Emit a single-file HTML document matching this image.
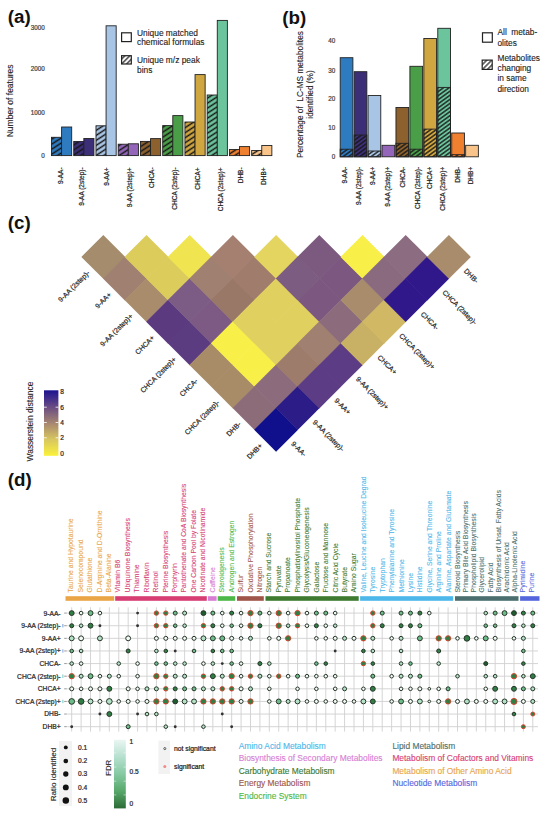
<!DOCTYPE html>
<html><head><meta charset="utf-8"><style>
html,body{margin:0;padding:0;background:#fff;width:550px;height:816px;overflow:hidden;}
svg{display:block;font-family:"Liberation Sans",sans-serif;}
</style></head><body>
<svg xml:space="preserve" width="550" height="816" viewBox="0 0 550 816" font-family="Liberation Sans, sans-serif"><text x="7.80" y="22.90" font-size="18.8" fill="#111" font-weight="bold">(a)</text>
<text x="282.30" y="23.50" font-size="18.8" fill="#111" font-weight="bold">(b)</text>
<text x="7.80" y="228.90" font-size="18.8" fill="#111" font-weight="bold">(c)</text>
<text x="7.80" y="486.00" font-size="18.8" fill="#111" font-weight="bold">(d)</text>
<defs><pattern id="ha" patternUnits="userSpaceOnUse" width="4.2" height="4.2" patternTransform="rotate(-33)"><line x1="0" y1="2.1" x2="4.2" y2="2.1" stroke="#151515" stroke-width="1.45"/></pattern><pattern id="hb" patternUnits="userSpaceOnUse" width="3.3" height="3.3" patternTransform="rotate(-36)"><line x1="0" y1="1.65" x2="3.3" y2="1.65" stroke="#151515" stroke-width="1.3"/></pattern><pattern id="hl" patternUnits="userSpaceOnUse" width="3.5" height="3.5" patternTransform="rotate(-45)"><line x1="0" y1="1.75" x2="3.5" y2="1.75" stroke="#111" stroke-width="1.15"/></pattern></defs>
<rect x="51.50" y="137.30" width="10.1" height="18.30" fill="#2F7BBF"/>
<rect x="51.50" y="137.30" width="10.1" height="18.30" fill="url(#ha)" stroke="#222" stroke-width="0.9"/>
<rect x="61.60" y="127.00" width="10.1" height="28.60" fill="#2F7BBF" stroke="#222" stroke-width="0.9"/>
<text x="63.45" y="167.40" font-size="6.5" fill="#262626" stroke="#262626" stroke-width="0.22" text-anchor="end" transform="rotate(-90 63.45 167.40)">9-AA-</text>
<rect x="73.74" y="141.50" width="10.1" height="14.10" fill="#3D2E78"/>
<rect x="73.74" y="141.50" width="10.1" height="14.10" fill="url(#ha)" stroke="#222" stroke-width="0.9"/>
<rect x="83.84" y="138.50" width="10.1" height="17.10" fill="#3D2E78" stroke="#222" stroke-width="0.9"/>
<text x="83.95" y="167.40" font-size="6.5" fill="#262626" stroke="#262626" stroke-width="0.22" text-anchor="end" transform="rotate(-90 83.95 167.40)">9-AA (2step)-</text>
<rect x="95.98" y="125.80" width="10.1" height="29.80" fill="#A9C5E6"/>
<rect x="95.98" y="125.80" width="10.1" height="29.80" fill="url(#ha)" stroke="#222" stroke-width="0.9"/>
<rect x="106.08" y="25.80" width="10.1" height="129.80" fill="#A9C5E6" stroke="#222" stroke-width="0.9"/>
<text x="109.05" y="167.40" font-size="6.5" fill="#262626" stroke="#262626" stroke-width="0.22" text-anchor="end" transform="rotate(-90 109.05 167.40)">9-AA+</text>
<rect x="118.22" y="144.20" width="10.1" height="11.40" fill="#9466B9"/>
<rect x="118.22" y="144.20" width="10.1" height="11.40" fill="url(#ha)" stroke="#222" stroke-width="0.9"/>
<rect x="128.32" y="143.80" width="10.1" height="11.80" fill="#9466B9" stroke="#222" stroke-width="0.9"/>
<text x="131.85" y="167.40" font-size="6.5" fill="#262626" stroke="#262626" stroke-width="0.22" text-anchor="end" transform="rotate(-90 131.85 167.40)">9-AA (2step)+</text>
<rect x="140.46" y="141.40" width="10.1" height="14.20" fill="#8C612E"/>
<rect x="140.46" y="141.40" width="10.1" height="14.20" fill="url(#ha)" stroke="#222" stroke-width="0.9"/>
<rect x="150.56" y="138.60" width="10.1" height="17.00" fill="#8C612E" stroke="#222" stroke-width="0.9"/>
<text x="153.75" y="167.40" font-size="6.5" fill="#262626" stroke="#262626" stroke-width="0.22" text-anchor="end" transform="rotate(-90 153.75 167.40)">CHCA-</text>
<rect x="162.70" y="125.60" width="10.1" height="30.00" fill="#4B9E48"/>
<rect x="162.70" y="125.60" width="10.1" height="30.00" fill="url(#ha)" stroke="#222" stroke-width="0.9"/>
<rect x="172.80" y="115.60" width="10.1" height="40.00" fill="#4B9E48" stroke="#222" stroke-width="0.9"/>
<text x="176.75" y="167.40" font-size="6.5" fill="#262626" stroke="#262626" stroke-width="0.22" text-anchor="end" transform="rotate(-90 176.75 167.40)">CHCA (2step)-</text>
<rect x="184.94" y="122.00" width="10.1" height="33.60" fill="#CFA640"/>
<rect x="184.94" y="122.00" width="10.1" height="33.60" fill="url(#ha)" stroke="#222" stroke-width="0.9"/>
<rect x="195.04" y="74.60" width="10.1" height="81.00" fill="#CFA640" stroke="#222" stroke-width="0.9"/>
<text x="199.95" y="167.40" font-size="6.5" fill="#262626" stroke="#262626" stroke-width="0.22" text-anchor="end" transform="rotate(-90 199.95 167.40)">CHCA+</text>
<rect x="207.18" y="95.00" width="10.1" height="60.60" fill="#6BC49C"/>
<rect x="207.18" y="95.00" width="10.1" height="60.60" fill="url(#ha)" stroke="#222" stroke-width="0.9"/>
<rect x="217.28" y="20.40" width="10.1" height="135.20" fill="#6BC49C" stroke="#222" stroke-width="0.9"/>
<text x="223.15" y="167.40" font-size="6.5" fill="#262626" stroke="#262626" stroke-width="0.22" text-anchor="end" transform="rotate(-90 223.15 167.40)">CHCA (2step)+</text>
<rect x="229.42" y="149.50" width="10.1" height="6.10" fill="#EE8030"/>
<rect x="229.42" y="149.50" width="10.1" height="6.10" fill="url(#ha)" stroke="#222" stroke-width="0.9"/>
<rect x="239.52" y="146.60" width="10.1" height="9.00" fill="#EE8030" stroke="#222" stroke-width="0.9"/>
<text x="242.95" y="167.40" font-size="6.5" fill="#262626" stroke="#262626" stroke-width="0.22" text-anchor="end" transform="rotate(-90 242.95 167.40)">DHB-</text>
<rect x="251.66" y="150.50" width="10.1" height="5.10" fill="#F9C48A"/>
<rect x="251.66" y="150.50" width="10.1" height="5.10" fill="url(#ha)" stroke="#222" stroke-width="0.9"/>
<rect x="261.76" y="145.50" width="10.1" height="10.10" fill="#F9C48A" stroke="#222" stroke-width="0.9"/>
<text x="266.15" y="167.40" font-size="6.5" fill="#262626" stroke="#262626" stroke-width="0.22" text-anchor="end" transform="rotate(-90 266.15 167.40)">DHB+</text>
<text x="44.80" y="158.20" font-size="6.3" fill="#444" stroke="#444" stroke-width="0.22" text-anchor="end">0</text>
<text x="44.80" y="114.60" font-size="6.3" fill="#444" stroke="#444" stroke-width="0.22" text-anchor="end">1000</text>
<text x="44.80" y="71.20" font-size="6.3" fill="#444" stroke="#444" stroke-width="0.22" text-anchor="end">2000</text>
<text x="44.80" y="29.90" font-size="6.3" fill="#444" stroke="#444" stroke-width="0.22" text-anchor="end">3000</text>
<text x="13.50" y="100.90" font-size="8.5" fill="#222" stroke="#222" stroke-width="0.12" text-anchor="middle" transform="rotate(-90 13.50 100.90)">Number of features</text>
<rect x="121.6" y="32.8" width="9.7" height="8.8" fill="#fff" stroke="#222" stroke-width="1.2"/>
<rect x="121.6" y="55.7" width="9.7" height="8.3" fill="url(#hl)" stroke="#222" stroke-width="1.2"/>
<text x="137.00" y="35.50" font-size="8.4" fill="#222" stroke="#222" stroke-width="0.12">Unique matched</text>
<text x="137.00" y="45.40" font-size="8.4" fill="#222" stroke="#222" stroke-width="0.12">chemical formulas</text>
<text x="137.00" y="63.30" font-size="8.4" fill="#222" stroke="#222" stroke-width="0.12">Unique m/z peak</text>
<text x="137.00" y="73.20" font-size="8.4" fill="#222" stroke="#222" stroke-width="0.12">bins</text>
<rect x="340.20" y="57.70" width="12.7" height="99.10" fill="#2F7BBF" stroke="#222" stroke-width="0.9"/>
<rect x="340.20" y="149.20" width="12.7" height="7.60" fill="url(#hb)" stroke="#222" stroke-width="0.9"/>
<text x="346.85" y="166.80" font-size="6.5" fill="#262626" stroke="#262626" stroke-width="0.22" text-anchor="end" transform="rotate(-90 346.85 166.80)">9-AA-</text>
<rect x="354.14" y="71.70" width="12.7" height="85.10" fill="#3D2E78" stroke="#222" stroke-width="0.9"/>
<rect x="354.14" y="135.00" width="12.7" height="21.80" fill="url(#hb)" stroke="#222" stroke-width="0.9"/>
<text x="361.05" y="166.80" font-size="6.5" fill="#262626" stroke="#262626" stroke-width="0.22" text-anchor="end" transform="rotate(-90 361.05 166.80)">9-AA (2step)-</text>
<rect x="368.08" y="95.50" width="12.7" height="61.30" fill="#A9C5E6" stroke="#222" stroke-width="0.9"/>
<rect x="368.08" y="151.00" width="12.7" height="5.80" fill="url(#hb)" stroke="#222" stroke-width="0.9"/>
<text x="375.45" y="166.80" font-size="6.5" fill="#262626" stroke="#262626" stroke-width="0.22" text-anchor="end" transform="rotate(-90 375.45 166.80)">9-AA+</text>
<rect x="382.02" y="145.30" width="12.7" height="11.50" fill="#9466B9" stroke="#222" stroke-width="0.9"/>
<text x="389.75" y="166.80" font-size="6.5" fill="#262626" stroke="#262626" stroke-width="0.22" text-anchor="end" transform="rotate(-90 389.75 166.80)">9-AA (2step)+</text>
<rect x="395.96" y="107.50" width="12.7" height="49.30" fill="#8C612E" stroke="#222" stroke-width="0.9"/>
<rect x="395.96" y="143.30" width="12.7" height="13.50" fill="url(#hb)" stroke="#222" stroke-width="0.9"/>
<text x="404.55" y="166.80" font-size="6.5" fill="#262626" stroke="#262626" stroke-width="0.22" text-anchor="end" transform="rotate(-90 404.55 166.80)">CHCA-</text>
<rect x="409.90" y="66.30" width="12.7" height="90.50" fill="#4B9E48" stroke="#222" stroke-width="0.9"/>
<rect x="409.90" y="149.20" width="12.7" height="7.60" fill="url(#hb)" stroke="#222" stroke-width="0.9"/>
<text x="419.75" y="166.80" font-size="6.5" fill="#262626" stroke="#262626" stroke-width="0.22" text-anchor="end" transform="rotate(-90 419.75 166.80)">CHCA (2step)-</text>
<rect x="423.84" y="38.50" width="12.7" height="118.30" fill="#CFA640" stroke="#222" stroke-width="0.9"/>
<rect x="423.84" y="129.10" width="12.7" height="27.70" fill="url(#hb)" stroke="#222" stroke-width="0.9"/>
<text x="432.05" y="166.80" font-size="6.5" fill="#262626" stroke="#262626" stroke-width="0.22" text-anchor="end" transform="rotate(-90 432.05 166.80)">CHCA+</text>
<rect x="437.78" y="28.30" width="12.7" height="128.50" fill="#6BC49C" stroke="#222" stroke-width="0.9"/>
<rect x="437.78" y="87.40" width="12.7" height="69.40" fill="url(#hb)" stroke="#222" stroke-width="0.9"/>
<text x="445.45" y="166.80" font-size="6.5" fill="#262626" stroke="#262626" stroke-width="0.22" text-anchor="end" transform="rotate(-90 445.45 166.80)">CHCA (2step)+</text>
<rect x="451.72" y="133.00" width="12.7" height="23.80" fill="#EE8030" stroke="#222" stroke-width="0.9"/>
<rect x="451.72" y="154.70" width="12.7" height="2.10" fill="url(#hb)" stroke="#222" stroke-width="0.9"/>
<text x="459.75" y="166.80" font-size="6.5" fill="#262626" stroke="#262626" stroke-width="0.22" text-anchor="end" transform="rotate(-90 459.75 166.80)">DHB-</text>
<rect x="465.66" y="145.30" width="12.7" height="11.50" fill="#F9C48A" stroke="#222" stroke-width="0.9"/>
<text x="472.85" y="166.80" font-size="6.5" fill="#262626" stroke="#262626" stroke-width="0.22" text-anchor="end" transform="rotate(-90 472.85 166.80)">DHB+</text>
<text x="335.30" y="158.70" font-size="6.3" fill="#444" stroke="#444" stroke-width="0.22" text-anchor="end">0</text>
<text x="335.30" y="129.90" font-size="6.3" fill="#444" stroke="#444" stroke-width="0.22" text-anchor="end">10</text>
<text x="335.30" y="101.30" font-size="6.3" fill="#444" stroke="#444" stroke-width="0.22" text-anchor="end">20</text>
<text x="335.30" y="72.50" font-size="6.3" fill="#444" stroke="#444" stroke-width="0.22" text-anchor="end">30</text>
<text x="335.30" y="43.00" font-size="6.3" fill="#444" stroke="#444" stroke-width="0.22" text-anchor="end">40</text>
<text x="303.10" y="94.50" font-size="8.3" fill="#222" stroke="#222" stroke-width="0.12" text-anchor="middle" transform="rotate(-90 303.10 94.50)">Percentage of  LC-MS metabolites</text>
<text x="313.20" y="94.50" font-size="8.3" fill="#222" stroke="#222" stroke-width="0.12" text-anchor="middle" transform="rotate(-90 313.20 94.50)">identified (%)</text>
<rect x="482.5" y="32.8" width="9.8" height="9.4" fill="#fff" stroke="#222" stroke-width="1.2"/>
<rect x="482.2" y="60.1" width="10" height="9.3" fill="url(#hl)" stroke="#222" stroke-width="1.2"/>
<text x="497.50" y="35.20" font-size="8.3" fill="#222" stroke="#222" stroke-width="0.12">All  metab-</text>
<text x="497.50" y="45.60" font-size="8.3" fill="#222" stroke="#222" stroke-width="0.12">olites</text>
<text x="497.50" y="61.20" font-size="8.3" fill="#222" stroke="#222" stroke-width="0.12">Metabolites</text>
<text x="497.50" y="71.40" font-size="8.3" fill="#222" stroke="#222" stroke-width="0.12">changing</text>
<text x="497.50" y="81.40" font-size="8.3" fill="#222" stroke="#222" stroke-width="0.12">in same</text>
<text x="497.50" y="91.50" font-size="8.3" fill="#222" stroke="#222" stroke-width="0.12">direction</text>
<polygon points="81.35,256.90 103.30,234.95 125.25,256.90 103.30,278.85" fill="#A48C6C"/>
<polygon points="102.95,278.50 124.90,256.55 146.85,278.50 124.90,300.45" fill="#A08070"/>
<polygon points="124.55,256.90 146.50,234.95 168.45,256.90 146.50,278.85" fill="#DCCC5C"/>
<polygon points="124.55,300.10 146.50,278.15 168.45,300.10 146.50,322.05" fill="#A88C6C"/>
<polygon points="146.15,278.50 168.10,256.55 190.05,278.50 168.10,300.45" fill="#DCCC5C"/>
<polygon points="167.75,256.90 189.70,234.95 211.65,256.90 189.70,278.85" fill="#F0E450"/>
<polygon points="146.15,321.70 168.10,299.75 190.05,321.70 168.10,343.65" fill="#5C3A80"/>
<polygon points="167.75,300.10 189.70,278.15 211.65,300.10 189.70,322.05" fill="#7C5C84"/>
<polygon points="189.35,278.50 211.30,256.55 233.25,278.50 211.30,300.45" fill="#A08070"/>
<polygon points="210.95,256.90 232.90,234.95 254.85,256.90 232.90,278.85" fill="#A58070"/>
<polygon points="167.75,343.30 189.70,321.35 211.65,343.30 189.70,365.25" fill="#5C3C80"/>
<polygon points="189.35,321.70 211.30,299.75 233.25,321.70 211.30,343.65" fill="#7C5A84"/>
<polygon points="210.95,300.10 232.90,278.15 254.85,300.10 232.90,322.05" fill="#9A7868"/>
<polygon points="232.55,278.50 254.50,256.55 276.45,278.50 254.50,300.45" fill="#A07C6C"/>
<polygon points="254.15,256.90 276.10,234.95 298.05,256.90 276.10,278.85" fill="#E4D460"/>
<polygon points="189.35,364.90 211.30,342.95 233.25,364.90 211.30,386.85" fill="#A88C68"/>
<polygon points="210.95,343.30 232.90,321.35 254.85,343.30 232.90,365.25" fill="#F8F048"/>
<polygon points="232.55,321.70 254.50,299.75 276.45,321.70 254.50,343.65" fill="#E0D060"/>
<polygon points="254.15,300.10 276.10,278.15 298.05,300.10 276.10,322.05" fill="#E0D060"/>
<polygon points="275.75,278.50 297.70,256.55 319.65,278.50 297.70,300.45" fill="#7C5C80"/>
<polygon points="297.35,256.90 319.30,234.95 341.25,256.90 319.30,278.85" fill="#7C5A80"/>
<polygon points="210.95,386.50 232.90,364.55 254.85,386.50 232.90,408.45" fill="#A88C68"/>
<polygon points="232.55,364.90 254.50,342.95 276.45,364.90 254.50,386.85" fill="#F8F048"/>
<polygon points="254.15,343.30 276.10,321.35 298.05,343.30 276.10,365.25" fill="#E0D060"/>
<polygon points="275.75,321.70 297.70,299.75 319.65,321.70 297.70,343.65" fill="#E0D060"/>
<polygon points="297.35,300.10 319.30,278.15 341.25,300.10 319.30,322.05" fill="#7C5880"/>
<polygon points="318.95,278.50 340.90,256.55 362.85,278.50 340.90,300.45" fill="#7C5880"/>
<polygon points="340.55,256.90 362.50,234.95 384.45,256.90 362.50,278.85" fill="#F8F048"/>
<polygon points="232.55,408.10 254.50,386.15 276.45,408.10 254.50,430.05" fill="#8C6C78"/>
<polygon points="254.15,386.50 276.10,364.55 298.05,386.50 276.10,408.45" fill="#8C6C7C"/>
<polygon points="275.75,364.90 297.70,342.95 319.65,364.90 297.70,386.85" fill="#9E7C6C"/>
<polygon points="297.35,343.30 319.30,321.35 341.25,343.30 319.30,365.25" fill="#A08070"/>
<polygon points="318.95,321.70 340.90,299.75 362.85,321.70 340.90,343.65" fill="#8C6C7C"/>
<polygon points="340.55,300.10 362.50,278.15 384.45,300.10 362.50,322.05" fill="#A88C6C"/>
<polygon points="362.15,278.50 384.10,256.55 406.05,278.50 384.10,300.45" fill="#8A6A7E"/>
<polygon points="383.75,256.90 405.70,234.95 427.65,256.90 405.70,278.85" fill="#8C6C80"/>
<polygon points="254.15,429.70 276.10,407.75 298.05,429.70 276.10,451.65" fill="#10108C"/>
<polygon points="275.75,408.10 297.70,386.15 319.65,408.10 297.70,430.05" fill="#2C1C88"/>
<polygon points="297.35,386.50 319.30,364.55 341.25,386.50 319.30,408.45" fill="#5C3C84"/>
<polygon points="318.95,364.90 340.90,342.95 362.85,364.90 340.90,386.85" fill="#5C3C84"/>
<polygon points="340.55,343.30 362.50,321.35 384.45,343.30 362.50,365.25" fill="#C8B064"/>
<polygon points="362.15,321.70 384.10,299.75 406.05,321.70 384.10,343.65" fill="#D0B864"/>
<polygon points="383.75,300.10 405.70,278.15 427.65,300.10 405.70,322.05" fill="#30188A"/>
<polygon points="405.35,278.50 427.30,256.55 449.25,278.50 427.30,300.45" fill="#30188A"/>
<polygon points="426.95,256.90 448.90,234.95 470.85,256.90 448.90,278.85" fill="#A88C6C"/>
<text x="90.20" y="273.40" font-size="7.0" fill="#262626" stroke="#262626" stroke-width="0.22" text-anchor="end" transform="rotate(-45 90.20 273.40)">9-AA (2step)-</text>
<text x="111.80" y="295.00" font-size="7.0" fill="#262626" stroke="#262626" stroke-width="0.22" text-anchor="end" transform="rotate(-45 111.80 295.00)">9-AA+</text>
<text x="133.40" y="316.60" font-size="7.0" fill="#262626" stroke="#262626" stroke-width="0.22" text-anchor="end" transform="rotate(-45 133.40 316.60)">9-AA (2step)+</text>
<text x="155.00" y="338.20" font-size="7.0" fill="#262626" stroke="#262626" stroke-width="0.22" text-anchor="end" transform="rotate(-45 155.00 338.20)">CHCA+</text>
<text x="176.60" y="359.80" font-size="7.0" fill="#262626" stroke="#262626" stroke-width="0.22" text-anchor="end" transform="rotate(-45 176.60 359.80)">CHCA (2step)+</text>
<text x="198.20" y="381.40" font-size="7.0" fill="#262626" stroke="#262626" stroke-width="0.22" text-anchor="end" transform="rotate(-45 198.20 381.40)">CHCA-</text>
<text x="219.80" y="403.00" font-size="7.0" fill="#262626" stroke="#262626" stroke-width="0.22" text-anchor="end" transform="rotate(-45 219.80 403.00)">CHCA (2step)-</text>
<text x="241.40" y="424.60" font-size="7.0" fill="#262626" stroke="#262626" stroke-width="0.22" text-anchor="end" transform="rotate(-45 241.40 424.60)">DHB-</text>
<text x="263.00" y="446.20" font-size="7.0" fill="#262626" stroke="#262626" stroke-width="0.22" text-anchor="end" transform="rotate(-45 263.00 446.20)">DHB+</text>
<text x="290.70" y="444.30" font-size="7.0" fill="#262626" stroke="#262626" stroke-width="0.22" transform="rotate(45 290.70 444.30)">9-AA-</text>
<text x="312.30" y="422.70" font-size="7.0" fill="#262626" stroke="#262626" stroke-width="0.22" transform="rotate(45 312.30 422.70)">9-AA (2step)-</text>
<text x="333.90" y="401.10" font-size="7.0" fill="#262626" stroke="#262626" stroke-width="0.22" transform="rotate(45 333.90 401.10)">9-AA+</text>
<text x="355.50" y="379.50" font-size="7.0" fill="#262626" stroke="#262626" stroke-width="0.22" transform="rotate(45 355.50 379.50)">9-AA (2step)+</text>
<text x="377.10" y="357.90" font-size="7.0" fill="#262626" stroke="#262626" stroke-width="0.22" transform="rotate(45 377.10 357.90)">CHCA+</text>
<text x="398.70" y="336.30" font-size="7.0" fill="#262626" stroke="#262626" stroke-width="0.22" transform="rotate(45 398.70 336.30)">CHCA (2step)+</text>
<text x="420.30" y="314.70" font-size="7.0" fill="#262626" stroke="#262626" stroke-width="0.22" transform="rotate(45 420.30 314.70)">CHCA-</text>
<text x="441.90" y="293.10" font-size="7.0" fill="#262626" stroke="#262626" stroke-width="0.22" transform="rotate(45 441.90 293.10)">CHCA (2step)-</text>
<text x="463.50" y="271.50" font-size="7.0" fill="#262626" stroke="#262626" stroke-width="0.22" transform="rotate(45 463.50 271.50)">DHB-</text>
<defs><linearGradient id="wd" x1="0" y1="1" x2="0" y2="0"><stop offset="0" stop-color="#FAF23A"/><stop offset="0.25" stop-color="#D8C660"/><stop offset="0.5" stop-color="#A68670"/><stop offset="0.75" stop-color="#684A84"/><stop offset="1" stop-color="#1C1290"/></linearGradient></defs>
<rect x="44" y="390.3" width="14.4" height="65.5" fill="url(#wd)"/>
<line x1="44" y1="437.80" x2="46.8" y2="437.80" stroke="#fff" stroke-width="0.8"/>
<line x1="55.6" y1="437.80" x2="58.4" y2="437.80" stroke="#fff" stroke-width="0.8"/>
<line x1="44" y1="422.50" x2="46.8" y2="422.50" stroke="#fff" stroke-width="0.8"/>
<line x1="55.6" y1="422.50" x2="58.4" y2="422.50" stroke="#fff" stroke-width="0.8"/>
<line x1="44" y1="407.20" x2="46.8" y2="407.20" stroke="#fff" stroke-width="0.8"/>
<line x1="55.6" y1="407.20" x2="58.4" y2="407.20" stroke="#fff" stroke-width="0.8"/>
<text x="60.30" y="455.50" font-size="6.6" fill="#262626" stroke="#262626" stroke-width="0.22">0</text>
<text x="60.30" y="440.20" font-size="6.6" fill="#262626" stroke="#262626" stroke-width="0.22">2</text>
<text x="60.30" y="424.90" font-size="6.6" fill="#262626" stroke="#262626" stroke-width="0.22">4</text>
<text x="60.30" y="409.60" font-size="6.6" fill="#262626" stroke="#262626" stroke-width="0.22">6</text>
<text x="60.30" y="394.30" font-size="6.6" fill="#262626" stroke="#262626" stroke-width="0.22">8</text>
<text x="33.30" y="421.50" font-size="8.45" fill="#222" stroke="#222" stroke-width="0.12" text-anchor="middle" transform="rotate(-90 33.30 421.50)">Wasserstein distance</text>
<text x="73.20" y="592.40" font-size="6.8" fill="#E9A546" stroke="#E9A546" stroke-width="0.08" transform="rotate(-90 73.20 592.40)">Taurine and Hypotaurine</text>
<text x="82.64" y="592.40" font-size="6.8" fill="#E9A546" stroke="#E9A546" stroke-width="0.08" transform="rotate(-90 82.64 592.40)">Selenocompound</text>
<text x="92.08" y="592.40" font-size="6.8" fill="#E9A546" stroke="#E9A546" stroke-width="0.08" transform="rotate(-90 92.08 592.40)">Glutathione</text>
<text x="101.52" y="592.40" font-size="6.8" fill="#E9A546" stroke="#E9A546" stroke-width="0.08" transform="rotate(-90 101.52 592.40)">D-Arginine and D-Ornithine</text>
<text x="110.96" y="592.40" font-size="6.8" fill="#E9A546" stroke="#E9A546" stroke-width="0.08" transform="rotate(-90 110.96 592.40)">Beta-Alanine</text>
<text x="120.40" y="592.40" font-size="6.8" fill="#D63E74" stroke="#D63E74" stroke-width="0.08" transform="rotate(-90 120.40 592.40)">Vitamin B6</text>
<text x="129.84" y="592.40" font-size="6.8" fill="#D63E74" stroke="#D63E74" stroke-width="0.08" transform="rotate(-90 129.84 592.40)">Ubiquinone Biosynthesis</text>
<text x="139.28" y="592.40" font-size="6.8" fill="#D63E74" stroke="#D63E74" stroke-width="0.08" transform="rotate(-90 139.28 592.40)">Thiamine</text>
<text x="148.72" y="592.40" font-size="6.8" fill="#D63E74" stroke="#D63E74" stroke-width="0.08" transform="rotate(-90 148.72 592.40)">Riboflavin</text>
<text x="158.16" y="592.40" font-size="6.8" fill="#D63E74" stroke="#D63E74" stroke-width="0.08" transform="rotate(-90 158.16 592.40)">Retinol</text>
<text x="167.60" y="592.40" font-size="6.8" fill="#D63E74" stroke="#D63E74" stroke-width="0.08" transform="rotate(-90 167.60 592.40)">Pterine Biosynthesis</text>
<text x="177.04" y="592.40" font-size="6.8" fill="#D63E74" stroke="#D63E74" stroke-width="0.08" transform="rotate(-90 177.04 592.40)">Porphyrin</text>
<text x="186.48" y="592.40" font-size="6.8" fill="#D63E74" stroke="#D63E74" stroke-width="0.08" transform="rotate(-90 186.48 592.40)">Pantothenate and CoA Biosynthesis</text>
<text x="195.92" y="592.40" font-size="6.8" fill="#D63E74" stroke="#D63E74" stroke-width="0.08" transform="rotate(-90 195.92 592.40)">One Carbon Pool by Folate</text>
<text x="205.36" y="592.40" font-size="6.8" fill="#D63E74" stroke="#D63E74" stroke-width="0.08" transform="rotate(-90 205.36 592.40)">Nicotinate and Nicotinamide</text>
<text x="214.80" y="592.40" font-size="6.8" fill="#D77ED4" stroke="#D77ED4" stroke-width="0.08" transform="rotate(-90 214.80 592.40)">Caffeine</text>
<text x="224.24" y="592.40" font-size="6.8" fill="#4DB847" stroke="#4DB847" stroke-width="0.08" transform="rotate(-90 224.24 592.40)">Steroidgenesis</text>
<text x="233.68" y="592.40" font-size="6.8" fill="#4DB847" stroke="#4DB847" stroke-width="0.08" transform="rotate(-90 233.68 592.40)">Androgen and Estrogen</text>
<text x="243.12" y="592.40" font-size="6.8" fill="#A0554A" stroke="#A0554A" stroke-width="0.08" transform="rotate(-90 243.12 592.40)">Sulfur</text>
<text x="252.56" y="592.40" font-size="6.8" fill="#A0554A" stroke="#A0554A" stroke-width="0.08" transform="rotate(-90 252.56 592.40)">Oxidative Phosphorylation</text>
<text x="262.00" y="592.40" font-size="6.8" fill="#A0554A" stroke="#A0554A" stroke-width="0.08" transform="rotate(-90 262.00 592.40)">Nitrogen</text>
<text x="271.44" y="592.40" font-size="6.8" fill="#3E7A30" stroke="#3E7A30" stroke-width="0.08" transform="rotate(-90 271.44 592.40)">Starch and Sucrose</text>
<text x="280.88" y="592.40" font-size="6.8" fill="#3E7A30" stroke="#3E7A30" stroke-width="0.08" transform="rotate(-90 280.88 592.40)">Pyruvate</text>
<text x="290.32" y="592.40" font-size="6.8" fill="#3E7A30" stroke="#3E7A30" stroke-width="0.08" transform="rotate(-90 290.32 592.40)">Propanoate</text>
<text x="299.76" y="592.40" font-size="6.8" fill="#3E7A30" stroke="#3E7A30" stroke-width="0.08" transform="rotate(-90 299.76 592.40)">Phosphatidylinositol Phosphate</text>
<text x="309.20" y="592.40" font-size="6.8" fill="#3E7A30" stroke="#3E7A30" stroke-width="0.08" transform="rotate(-90 309.20 592.40)">Glycolysis/Gluconeogenesis</text>
<text x="318.64" y="592.40" font-size="6.8" fill="#3E7A30" stroke="#3E7A30" stroke-width="0.08" transform="rotate(-90 318.64 592.40)">Galactose</text>
<text x="328.08" y="592.40" font-size="6.8" fill="#3E7A30" stroke="#3E7A30" stroke-width="0.08" transform="rotate(-90 328.08 592.40)">Fructose and Mannose</text>
<text x="337.52" y="592.40" font-size="6.8" fill="#3E7A30" stroke="#3E7A30" stroke-width="0.08" transform="rotate(-90 337.52 592.40)">Citric Acid Cycle</text>
<text x="346.96" y="592.40" font-size="6.8" fill="#3E7A30" stroke="#3E7A30" stroke-width="0.08" transform="rotate(-90 346.96 592.40)">Butyrate</text>
<text x="356.40" y="592.40" font-size="6.8" fill="#3E7A30" stroke="#3E7A30" stroke-width="0.08" transform="rotate(-90 356.40 592.40)">Amino Sugar</text>
<text x="365.84" y="592.40" font-size="6.8" fill="#4DB7EA" stroke="#4DB7EA" stroke-width="0.08" transform="rotate(-90 365.84 592.40)">Valine, Leucine and Isoleucine Degrad</text>
<text x="375.28" y="592.40" font-size="6.8" fill="#4DB7EA" stroke="#4DB7EA" stroke-width="0.08" transform="rotate(-90 375.28 592.40)">Tyrosine</text>
<text x="384.72" y="592.40" font-size="6.8" fill="#4DB7EA" stroke="#4DB7EA" stroke-width="0.08" transform="rotate(-90 384.72 592.40)">Tryptophan</text>
<text x="394.16" y="592.40" font-size="6.8" fill="#4DB7EA" stroke="#4DB7EA" stroke-width="0.08" transform="rotate(-90 394.16 592.40)">Phenylalanine and Tyrosine</text>
<text x="403.60" y="592.40" font-size="6.8" fill="#4DB7EA" stroke="#4DB7EA" stroke-width="0.08" transform="rotate(-90 403.60 592.40)">Methionine</text>
<text x="413.04" y="592.40" font-size="6.8" fill="#4DB7EA" stroke="#4DB7EA" stroke-width="0.08" transform="rotate(-90 413.04 592.40)">Lysine</text>
<text x="422.48" y="592.40" font-size="6.8" fill="#4DB7EA" stroke="#4DB7EA" stroke-width="0.08" transform="rotate(-90 422.48 592.40)">Histidine</text>
<text x="431.92" y="592.40" font-size="6.8" fill="#4DB7EA" stroke="#4DB7EA" stroke-width="0.08" transform="rotate(-90 431.92 592.40)">Glycine, Serine and Threonine</text>
<text x="441.36" y="592.40" font-size="6.8" fill="#4DB7EA" stroke="#4DB7EA" stroke-width="0.08" transform="rotate(-90 441.36 592.40)">Arginine and Proline</text>
<text x="450.80" y="592.40" font-size="6.8" fill="#4DB7EA" stroke="#4DB7EA" stroke-width="0.08" transform="rotate(-90 450.80 592.40)">Alanine, Aspartate and Glutamate</text>
<text x="459.90" y="592.40" font-size="6.8" fill="#4A6F6E" stroke="#4A6F6E" stroke-width="0.08" transform="rotate(-90 459.90 592.40)">Steroid Biosynthesis</text>
<text x="468.10" y="592.40" font-size="6.8" fill="#4A6F6E" stroke="#4A6F6E" stroke-width="0.08" transform="rotate(-90 468.10 592.40)">Primary Bile Acid Biosynthesis</text>
<text x="476.30" y="592.40" font-size="6.8" fill="#4A6F6E" stroke="#4A6F6E" stroke-width="0.08" transform="rotate(-90 476.30 592.40)">Phospholipid Biosynthesis</text>
<text x="484.50" y="592.40" font-size="6.8" fill="#4A6F6E" stroke="#4A6F6E" stroke-width="0.08" transform="rotate(-90 484.50 592.40)">Glycerolipid</text>
<text x="492.70" y="592.40" font-size="6.8" fill="#4A6F6E" stroke="#4A6F6E" stroke-width="0.08" transform="rotate(-90 492.70 592.40)">Fatty Acid</text>
<text x="500.90" y="592.40" font-size="6.8" fill="#4A6F6E" stroke="#4A6F6E" stroke-width="0.08" transform="rotate(-90 500.90 592.40)">Biosynthesis of Unsat. Fatty Acids</text>
<text x="509.10" y="592.40" font-size="6.8" fill="#4A6F6E" stroke="#4A6F6E" stroke-width="0.08" transform="rotate(-90 509.10 592.40)">Arachidonic Acid</text>
<text x="517.30" y="592.40" font-size="6.8" fill="#4A6F6E" stroke="#4A6F6E" stroke-width="0.08" transform="rotate(-90 517.30 592.40)">Alpha-Linolenic Acid</text>
<text x="525.50" y="592.40" font-size="6.8" fill="#5566DD" stroke="#5566DD" stroke-width="0.08" transform="rotate(-90 525.50 592.40)">Pyrimidine</text>
<text x="533.70" y="592.40" font-size="6.8" fill="#5566DD" stroke="#5566DD" stroke-width="0.08" transform="rotate(-90 533.70 592.40)">Purine</text>
<rect x="65.5" y="596.2" width="48.7" height="4.6" fill="#E9A546"/>
<rect x="115.2" y="596.2" width="91.6" height="4.6" fill="#D63E74"/>
<rect x="207.9" y="596.2" width="8.7" height="4.6" fill="#D77ED4"/>
<rect x="217.7" y="596.2" width="17.5" height="4.6" fill="#4DB847"/>
<rect x="237.0" y="596.2" width="26.8" height="4.6" fill="#A0554A"/>
<rect x="265.5" y="596.2" width="93.2" height="4.6" fill="#3E7A30"/>
<rect x="360.1" y="596.2" width="93.1" height="4.6" fill="#4DB7EA"/>
<rect x="455.0" y="596.2" width="63.5" height="4.6" fill="#4A6F6E"/>
<rect x="520.1" y="596.2" width="19.4" height="4.6" fill="#5566DD"/>
<line x1="71.70" y1="607.3" x2="71.70" y2="731.6" stroke="#D0D0D0" stroke-width="0.9"/>
<line x1="81.11" y1="607.3" x2="81.11" y2="731.6" stroke="#D0D0D0" stroke-width="0.9"/>
<line x1="90.52" y1="607.3" x2="90.52" y2="731.6" stroke="#D0D0D0" stroke-width="0.9"/>
<line x1="99.93" y1="607.3" x2="99.93" y2="731.6" stroke="#D0D0D0" stroke-width="0.9"/>
<line x1="109.34" y1="607.3" x2="109.34" y2="731.6" stroke="#D0D0D0" stroke-width="0.9"/>
<line x1="118.75" y1="607.3" x2="118.75" y2="731.6" stroke="#D0D0D0" stroke-width="0.9"/>
<line x1="128.16" y1="607.3" x2="128.16" y2="731.6" stroke="#D0D0D0" stroke-width="0.9"/>
<line x1="137.57" y1="607.3" x2="137.57" y2="731.6" stroke="#D0D0D0" stroke-width="0.9"/>
<line x1="146.98" y1="607.3" x2="146.98" y2="731.6" stroke="#D0D0D0" stroke-width="0.9"/>
<line x1="156.39" y1="607.3" x2="156.39" y2="731.6" stroke="#D0D0D0" stroke-width="0.9"/>
<line x1="165.80" y1="607.3" x2="165.80" y2="731.6" stroke="#D0D0D0" stroke-width="0.9"/>
<line x1="175.21" y1="607.3" x2="175.21" y2="731.6" stroke="#D0D0D0" stroke-width="0.9"/>
<line x1="184.62" y1="607.3" x2="184.62" y2="731.6" stroke="#D0D0D0" stroke-width="0.9"/>
<line x1="194.03" y1="607.3" x2="194.03" y2="731.6" stroke="#D0D0D0" stroke-width="0.9"/>
<line x1="203.44" y1="607.3" x2="203.44" y2="731.6" stroke="#D0D0D0" stroke-width="0.9"/>
<line x1="212.85" y1="607.3" x2="212.85" y2="731.6" stroke="#D0D0D0" stroke-width="0.9"/>
<line x1="222.26" y1="607.3" x2="222.26" y2="731.6" stroke="#D0D0D0" stroke-width="0.9"/>
<line x1="231.67" y1="607.3" x2="231.67" y2="731.6" stroke="#D0D0D0" stroke-width="0.9"/>
<line x1="241.08" y1="607.3" x2="241.08" y2="731.6" stroke="#D0D0D0" stroke-width="0.9"/>
<line x1="250.49" y1="607.3" x2="250.49" y2="731.6" stroke="#D0D0D0" stroke-width="0.9"/>
<line x1="259.90" y1="607.3" x2="259.90" y2="731.6" stroke="#D0D0D0" stroke-width="0.9"/>
<line x1="269.31" y1="607.3" x2="269.31" y2="731.6" stroke="#D0D0D0" stroke-width="0.9"/>
<line x1="278.72" y1="607.3" x2="278.72" y2="731.6" stroke="#D0D0D0" stroke-width="0.9"/>
<line x1="288.13" y1="607.3" x2="288.13" y2="731.6" stroke="#D0D0D0" stroke-width="0.9"/>
<line x1="297.54" y1="607.3" x2="297.54" y2="731.6" stroke="#D0D0D0" stroke-width="0.9"/>
<line x1="306.95" y1="607.3" x2="306.95" y2="731.6" stroke="#D0D0D0" stroke-width="0.9"/>
<line x1="316.36" y1="607.3" x2="316.36" y2="731.6" stroke="#D0D0D0" stroke-width="0.9"/>
<line x1="325.77" y1="607.3" x2="325.77" y2="731.6" stroke="#D0D0D0" stroke-width="0.9"/>
<line x1="335.18" y1="607.3" x2="335.18" y2="731.6" stroke="#D0D0D0" stroke-width="0.9"/>
<line x1="344.59" y1="607.3" x2="344.59" y2="731.6" stroke="#D0D0D0" stroke-width="0.9"/>
<line x1="354.00" y1="607.3" x2="354.00" y2="731.6" stroke="#D0D0D0" stroke-width="0.9"/>
<line x1="363.41" y1="607.3" x2="363.41" y2="731.6" stroke="#D0D0D0" stroke-width="0.9"/>
<line x1="372.82" y1="607.3" x2="372.82" y2="731.6" stroke="#D0D0D0" stroke-width="0.9"/>
<line x1="382.23" y1="607.3" x2="382.23" y2="731.6" stroke="#D0D0D0" stroke-width="0.9"/>
<line x1="391.64" y1="607.3" x2="391.64" y2="731.6" stroke="#D0D0D0" stroke-width="0.9"/>
<line x1="401.05" y1="607.3" x2="401.05" y2="731.6" stroke="#D0D0D0" stroke-width="0.9"/>
<line x1="410.46" y1="607.3" x2="410.46" y2="731.6" stroke="#D0D0D0" stroke-width="0.9"/>
<line x1="419.87" y1="607.3" x2="419.87" y2="731.6" stroke="#D0D0D0" stroke-width="0.9"/>
<line x1="429.28" y1="607.3" x2="429.28" y2="731.6" stroke="#D0D0D0" stroke-width="0.9"/>
<line x1="438.69" y1="607.3" x2="438.69" y2="731.6" stroke="#D0D0D0" stroke-width="0.9"/>
<line x1="448.10" y1="607.3" x2="448.10" y2="731.6" stroke="#D0D0D0" stroke-width="0.9"/>
<line x1="457.51" y1="607.3" x2="457.51" y2="731.6" stroke="#D0D0D0" stroke-width="0.9"/>
<line x1="466.92" y1="607.3" x2="466.92" y2="731.6" stroke="#D0D0D0" stroke-width="0.9"/>
<line x1="476.33" y1="607.3" x2="476.33" y2="731.6" stroke="#D0D0D0" stroke-width="0.9"/>
<line x1="485.74" y1="607.3" x2="485.74" y2="731.6" stroke="#D0D0D0" stroke-width="0.9"/>
<line x1="495.15" y1="607.3" x2="495.15" y2="731.6" stroke="#D0D0D0" stroke-width="0.9"/>
<line x1="504.56" y1="607.3" x2="504.56" y2="731.6" stroke="#D0D0D0" stroke-width="0.9"/>
<line x1="513.97" y1="607.3" x2="513.97" y2="731.6" stroke="#D0D0D0" stroke-width="0.9"/>
<line x1="523.38" y1="607.3" x2="523.38" y2="731.6" stroke="#D0D0D0" stroke-width="0.9"/>
<line x1="532.79" y1="607.3" x2="532.79" y2="731.6" stroke="#D0D0D0" stroke-width="0.9"/>
<line x1="67.2" y1="613.10" x2="538" y2="613.10" stroke="#D0D0D0" stroke-width="0.9"/>
<line x1="64.2" y1="613.10" x2="66.8" y2="613.10" stroke="#555" stroke-width="0.6"/>
<line x1="67.2" y1="625.72" x2="538" y2="625.72" stroke="#D0D0D0" stroke-width="0.9"/>
<line x1="64.2" y1="625.72" x2="66.8" y2="625.72" stroke="#555" stroke-width="0.6"/>
<line x1="67.2" y1="638.34" x2="538" y2="638.34" stroke="#D0D0D0" stroke-width="0.9"/>
<line x1="64.2" y1="638.34" x2="66.8" y2="638.34" stroke="#555" stroke-width="0.6"/>
<line x1="67.2" y1="650.96" x2="538" y2="650.96" stroke="#D0D0D0" stroke-width="0.9"/>
<line x1="64.2" y1="650.96" x2="66.8" y2="650.96" stroke="#555" stroke-width="0.6"/>
<line x1="67.2" y1="663.58" x2="538" y2="663.58" stroke="#D0D0D0" stroke-width="0.9"/>
<line x1="64.2" y1="663.58" x2="66.8" y2="663.58" stroke="#555" stroke-width="0.6"/>
<line x1="67.2" y1="676.20" x2="538" y2="676.20" stroke="#D0D0D0" stroke-width="0.9"/>
<line x1="64.2" y1="676.20" x2="66.8" y2="676.20" stroke="#555" stroke-width="0.6"/>
<line x1="67.2" y1="688.82" x2="538" y2="688.82" stroke="#D0D0D0" stroke-width="0.9"/>
<line x1="64.2" y1="688.82" x2="66.8" y2="688.82" stroke="#555" stroke-width="0.6"/>
<line x1="67.2" y1="701.44" x2="538" y2="701.44" stroke="#D0D0D0" stroke-width="0.9"/>
<line x1="64.2" y1="701.44" x2="66.8" y2="701.44" stroke="#555" stroke-width="0.6"/>
<line x1="67.2" y1="714.06" x2="538" y2="714.06" stroke="#D0D0D0" stroke-width="0.9"/>
<line x1="64.2" y1="714.06" x2="66.8" y2="714.06" stroke="#555" stroke-width="0.6"/>
<line x1="67.2" y1="726.68" x2="538" y2="726.68" stroke="#D0D0D0" stroke-width="0.9"/>
<line x1="64.2" y1="726.68" x2="66.8" y2="726.68" stroke="#555" stroke-width="0.6"/>
<text x="60.60" y="615.50" font-size="6.7" fill="#262626" stroke="#262626" stroke-width="0.22" text-anchor="end">9-AA-</text>
<text x="60.60" y="628.12" font-size="6.7" fill="#262626" stroke="#262626" stroke-width="0.22" text-anchor="end">9-AA (2step)-</text>
<text x="60.60" y="640.74" font-size="6.7" fill="#262626" stroke="#262626" stroke-width="0.22" text-anchor="end">9-AA+</text>
<text x="60.60" y="653.36" font-size="6.7" fill="#262626" stroke="#262626" stroke-width="0.22" text-anchor="end">9-AA (2step)+</text>
<text x="60.60" y="665.98" font-size="6.7" fill="#262626" stroke="#262626" stroke-width="0.22" text-anchor="end">CHCA-</text>
<text x="60.60" y="678.60" font-size="6.7" fill="#262626" stroke="#262626" stroke-width="0.22" text-anchor="end">CHCA (2step)-</text>
<text x="60.60" y="691.22" font-size="6.7" fill="#262626" stroke="#262626" stroke-width="0.22" text-anchor="end">CHCA+</text>
<text x="60.60" y="703.84" font-size="6.7" fill="#262626" stroke="#262626" stroke-width="0.22" text-anchor="end">CHCA (2step)+</text>
<text x="60.60" y="716.46" font-size="6.7" fill="#262626" stroke="#262626" stroke-width="0.22" text-anchor="end">DHB-</text>
<text x="60.60" y="729.08" font-size="6.7" fill="#262626" stroke="#262626" stroke-width="0.22" text-anchor="end">DHB+</text>
<rect x="62" y="624.02" width="1.6" height="3.4" fill="#A9C1E8"/>
<rect x="62" y="649.26" width="1.6" height="3.4" fill="#B4C6EA"/>
<rect x="62" y="674.50" width="1.6" height="3.4" fill="#A6E0DA"/>
<rect x="62" y="699.74" width="1.6" height="3.4" fill="#A6E0DA"/>
<circle cx="71.70" cy="613.10" r="2.45" fill="#2F7E44" stroke="#263328" stroke-width="1.0"/>
<circle cx="81.11" cy="613.10" r="1.80" fill="#F2FAF5" stroke="#263328" stroke-width="1.0"/>
<circle cx="90.52" cy="613.10" r="2.45" fill="#6CBD88" stroke="#263328" stroke-width="1.0"/>
<circle cx="99.93" cy="613.10" r="1.80" fill="#F2FAF5" stroke="#263328" stroke-width="1.0"/>
<circle cx="137.57" cy="613.10" r="1.45" fill="#333"/>
<circle cx="156.39" cy="613.10" r="2.20" fill="#2F7E44" stroke="#D8402C" stroke-width="0.95"/>
<circle cx="165.80" cy="613.10" r="2.20" fill="#2F7E44" stroke="#D8402C" stroke-width="0.95"/>
<circle cx="175.21" cy="613.10" r="2.00" fill="#6CBD88" stroke="#263328" stroke-width="1.0"/>
<circle cx="184.62" cy="613.10" r="2.00" fill="#B4E2C6" stroke="#263328" stroke-width="1.0"/>
<circle cx="203.44" cy="613.10" r="2.45" fill="#1D5C2D" stroke="#263328" stroke-width="1.0"/>
<circle cx="212.85" cy="613.10" r="2.00" fill="#6CBD88" stroke="#263328" stroke-width="1.0"/>
<circle cx="222.26" cy="613.10" r="1.80" fill="#F2FAF5" stroke="#263328" stroke-width="1.0"/>
<circle cx="231.67" cy="613.10" r="2.00" fill="#2F7E44" stroke="#263328" stroke-width="1.0"/>
<circle cx="241.08" cy="613.10" r="1.80" fill="#F2FAF5" stroke="#263328" stroke-width="1.0"/>
<circle cx="250.49" cy="613.10" r="2.65" fill="#2F7E44" stroke="#D8402C" stroke-width="0.95"/>
<circle cx="259.90" cy="613.10" r="2.00" fill="#6CBD88" stroke="#263328" stroke-width="1.0"/>
<circle cx="269.31" cy="613.10" r="1.80" fill="#F2FAF5" stroke="#263328" stroke-width="1.0"/>
<circle cx="278.72" cy="613.10" r="2.65" fill="#2F7E44" stroke="#D8402C" stroke-width="0.95"/>
<circle cx="288.13" cy="613.10" r="1.80" fill="#F2FAF5" stroke="#263328" stroke-width="1.0"/>
<circle cx="297.54" cy="613.10" r="2.65" fill="#2F7E44" stroke="#D8402C" stroke-width="0.95"/>
<circle cx="306.95" cy="613.10" r="1.80" fill="#F2FAF5" stroke="#263328" stroke-width="1.0"/>
<circle cx="316.36" cy="613.10" r="2.00" fill="#6CBD88" stroke="#263328" stroke-width="1.0"/>
<circle cx="325.77" cy="613.10" r="2.00" fill="#6CBD88" stroke="#263328" stroke-width="1.0"/>
<circle cx="335.18" cy="613.10" r="1.80" fill="#F2FAF5" stroke="#263328" stroke-width="1.0"/>
<circle cx="372.82" cy="613.10" r="2.20" fill="#2F7E44" stroke="#D8402C" stroke-width="0.95"/>
<circle cx="382.23" cy="613.10" r="2.00" fill="#6CBD88" stroke="#263328" stroke-width="1.0"/>
<circle cx="401.05" cy="613.10" r="2.00" fill="#6CBD88" stroke="#263328" stroke-width="1.0"/>
<circle cx="410.46" cy="613.10" r="2.00" fill="#6CBD88" stroke="#263328" stroke-width="1.0"/>
<circle cx="419.87" cy="613.10" r="2.00" fill="#2F7E44" stroke="#263328" stroke-width="1.0"/>
<circle cx="429.28" cy="613.10" r="1.80" fill="#F2FAF5" stroke="#263328" stroke-width="1.0"/>
<circle cx="485.74" cy="613.10" r="1.80" fill="#B4E2C6" stroke="#263328" stroke-width="1.0"/>
<circle cx="495.15" cy="613.10" r="2.00" fill="#6CBD88" stroke="#263328" stroke-width="1.0"/>
<circle cx="504.56" cy="613.10" r="2.45" fill="#6CBD88" stroke="#263328" stroke-width="1.0"/>
<circle cx="513.97" cy="613.10" r="2.45" fill="#1D5C2D" stroke="#263328" stroke-width="1.0"/>
<circle cx="523.38" cy="613.10" r="2.00" fill="#2F7E44" stroke="#263328" stroke-width="1.0"/>
<circle cx="532.79" cy="613.10" r="2.00" fill="#6CBD88" stroke="#263328" stroke-width="1.0"/>
<circle cx="71.70" cy="625.72" r="2.00" fill="#2F7E44" stroke="#263328" stroke-width="1.0"/>
<circle cx="81.11" cy="625.72" r="1.80" fill="#B4E2C6" stroke="#263328" stroke-width="1.0"/>
<circle cx="90.52" cy="625.72" r="2.45" fill="#2F7E44" stroke="#263328" stroke-width="1.0"/>
<circle cx="99.93" cy="625.72" r="1.45" fill="#333"/>
<circle cx="137.57" cy="625.72" r="1.45" fill="#333"/>
<circle cx="156.39" cy="625.72" r="2.20" fill="#2F7E44" stroke="#D8402C" stroke-width="0.95"/>
<circle cx="165.80" cy="625.72" r="2.20" fill="#2F7E44" stroke="#D8402C" stroke-width="0.95"/>
<circle cx="175.21" cy="625.72" r="1.80" fill="#6CBD88" stroke="#263328" stroke-width="1.0"/>
<circle cx="184.62" cy="625.72" r="1.80" fill="#B4E2C6" stroke="#263328" stroke-width="1.0"/>
<circle cx="203.44" cy="625.72" r="2.20" fill="#2F7E44" stroke="#D8402C" stroke-width="0.95"/>
<circle cx="212.85" cy="625.72" r="2.00" fill="#2F7E44" stroke="#263328" stroke-width="1.0"/>
<circle cx="222.26" cy="625.72" r="1.80" fill="#F2FAF5" stroke="#263328" stroke-width="1.0"/>
<circle cx="231.67" cy="625.72" r="1.80" fill="#6CBD88" stroke="#263328" stroke-width="1.0"/>
<circle cx="241.08" cy="625.72" r="1.80" fill="#F2FAF5" stroke="#263328" stroke-width="1.0"/>
<circle cx="250.49" cy="625.72" r="2.65" fill="#2F7E44" stroke="#D8402C" stroke-width="0.95"/>
<circle cx="259.90" cy="625.72" r="2.00" fill="#2F7E44" stroke="#263328" stroke-width="1.0"/>
<circle cx="278.72" cy="625.72" r="2.65" fill="#2F7E44" stroke="#D8402C" stroke-width="0.95"/>
<circle cx="288.13" cy="625.72" r="1.80" fill="#B4E2C6" stroke="#263328" stroke-width="1.0"/>
<circle cx="297.54" cy="625.72" r="2.20" fill="#2F7E44" stroke="#D8402C" stroke-width="0.95"/>
<circle cx="306.95" cy="625.72" r="1.80" fill="#F2FAF5" stroke="#263328" stroke-width="1.0"/>
<circle cx="316.36" cy="625.72" r="2.00" fill="#2F7E44" stroke="#263328" stroke-width="1.0"/>
<circle cx="325.77" cy="625.72" r="1.80" fill="#F2FAF5" stroke="#263328" stroke-width="1.0"/>
<circle cx="335.18" cy="625.72" r="1.80" fill="#B4E2C6" stroke="#263328" stroke-width="1.0"/>
<circle cx="372.82" cy="625.72" r="2.20" fill="#2F7E44" stroke="#D8402C" stroke-width="0.95"/>
<circle cx="382.23" cy="625.72" r="2.00" fill="#2F7E44" stroke="#263328" stroke-width="1.0"/>
<circle cx="401.05" cy="625.72" r="2.00" fill="#2F7E44" stroke="#263328" stroke-width="1.0"/>
<circle cx="410.46" cy="625.72" r="2.00" fill="#2F7E44" stroke="#263328" stroke-width="1.0"/>
<circle cx="419.87" cy="625.72" r="2.00" fill="#6CBD88" stroke="#263328" stroke-width="1.0"/>
<circle cx="485.74" cy="625.72" r="1.80" fill="#6CBD88" stroke="#263328" stroke-width="1.0"/>
<circle cx="495.15" cy="625.72" r="1.80" fill="#6CBD88" stroke="#263328" stroke-width="1.0"/>
<circle cx="513.97" cy="625.72" r="2.00" fill="#2F7E44" stroke="#263328" stroke-width="1.0"/>
<circle cx="523.38" cy="625.72" r="1.80" fill="#B4E2C6" stroke="#263328" stroke-width="1.0"/>
<circle cx="532.79" cy="625.72" r="2.00" fill="#2F7E44" stroke="#263328" stroke-width="1.0"/>
<circle cx="71.70" cy="638.34" r="2.45" fill="#B4E2C6" stroke="#263328" stroke-width="1.0"/>
<circle cx="81.11" cy="638.34" r="2.45" fill="#F2FAF5" stroke="#263328" stroke-width="1.0"/>
<circle cx="99.93" cy="638.34" r="2.45" fill="#B4E2C6" stroke="#263328" stroke-width="1.0"/>
<circle cx="128.16" cy="638.34" r="2.45" fill="#F2FAF5" stroke="#263328" stroke-width="1.0"/>
<circle cx="156.39" cy="638.34" r="2.00" fill="#F2FAF5" stroke="#263328" stroke-width="1.0"/>
<circle cx="165.80" cy="638.34" r="2.00" fill="#F2FAF5" stroke="#263328" stroke-width="1.0"/>
<circle cx="175.21" cy="638.34" r="2.00" fill="#F2FAF5" stroke="#263328" stroke-width="1.0"/>
<circle cx="184.62" cy="638.34" r="2.00" fill="#F2FAF5" stroke="#263328" stroke-width="1.0"/>
<circle cx="194.03" cy="638.34" r="2.00" fill="#F2FAF5" stroke="#263328" stroke-width="1.0"/>
<circle cx="203.44" cy="638.34" r="2.45" fill="#B4E2C6" stroke="#263328" stroke-width="1.0"/>
<circle cx="212.85" cy="638.34" r="2.45" fill="#6CBD88" stroke="#263328" stroke-width="1.0"/>
<circle cx="222.26" cy="638.34" r="2.45" fill="#6CBD88" stroke="#263328" stroke-width="1.0"/>
<circle cx="231.67" cy="638.34" r="2.00" fill="#F2FAF5" stroke="#263328" stroke-width="1.0"/>
<circle cx="241.08" cy="638.34" r="1.80" fill="#F2FAF5" stroke="#263328" stroke-width="1.0"/>
<circle cx="250.49" cy="638.34" r="2.00" fill="#B4E2C6" stroke="#263328" stroke-width="1.0"/>
<circle cx="269.31" cy="638.34" r="1.80" fill="#F2FAF5" stroke="#263328" stroke-width="1.0"/>
<circle cx="278.72" cy="638.34" r="2.00" fill="#F2FAF5" stroke="#263328" stroke-width="1.0"/>
<circle cx="288.13" cy="638.34" r="2.65" fill="#2F7E44" stroke="#D8402C" stroke-width="0.95"/>
<circle cx="316.36" cy="638.34" r="1.80" fill="#F2FAF5" stroke="#263328" stroke-width="1.0"/>
<circle cx="325.77" cy="638.34" r="1.80" fill="#F2FAF5" stroke="#263328" stroke-width="1.0"/>
<circle cx="335.18" cy="638.34" r="2.00" fill="#F2FAF5" stroke="#263328" stroke-width="1.0"/>
<circle cx="344.59" cy="638.34" r="2.00" fill="#B4E2C6" stroke="#263328" stroke-width="1.0"/>
<circle cx="354.00" cy="638.34" r="2.00" fill="#F2FAF5" stroke="#263328" stroke-width="1.0"/>
<circle cx="363.41" cy="638.34" r="2.65" fill="#2F7E44" stroke="#D8402C" stroke-width="0.95"/>
<circle cx="372.82" cy="638.34" r="2.00" fill="#B4E2C6" stroke="#263328" stroke-width="1.0"/>
<circle cx="391.64" cy="638.34" r="1.80" fill="#F2FAF5" stroke="#263328" stroke-width="1.0"/>
<circle cx="401.05" cy="638.34" r="2.00" fill="#B4E2C6" stroke="#263328" stroke-width="1.0"/>
<circle cx="419.87" cy="638.34" r="2.45" fill="#6CBD88" stroke="#263328" stroke-width="1.0"/>
<circle cx="438.69" cy="638.34" r="2.65" fill="#2F7E44" stroke="#D8402C" stroke-width="0.95"/>
<circle cx="448.10" cy="638.34" r="2.65" fill="#2F7E44" stroke="#D8402C" stroke-width="0.95"/>
<circle cx="457.51" cy="638.34" r="1.80" fill="#F2FAF5" stroke="#263328" stroke-width="1.0"/>
<circle cx="466.92" cy="638.34" r="2.85" fill="#2F7E44" stroke="#263328" stroke-width="1.0"/>
<circle cx="476.33" cy="638.34" r="1.80" fill="#F2FAF5" stroke="#263328" stroke-width="1.0"/>
<circle cx="485.74" cy="638.34" r="2.45" fill="#6CBD88" stroke="#263328" stroke-width="1.0"/>
<circle cx="495.15" cy="638.34" r="2.00" fill="#F2FAF5" stroke="#263328" stroke-width="1.0"/>
<circle cx="513.97" cy="638.34" r="1.80" fill="#F2FAF5" stroke="#263328" stroke-width="1.0"/>
<circle cx="523.38" cy="638.34" r="2.00" fill="#B4E2C6" stroke="#263328" stroke-width="1.0"/>
<circle cx="71.70" cy="650.96" r="1.80" fill="#6CBD88" stroke="#263328" stroke-width="1.0"/>
<circle cx="81.11" cy="650.96" r="1.80" fill="#B4E2C6" stroke="#263328" stroke-width="1.0"/>
<circle cx="128.16" cy="650.96" r="2.00" fill="#2F7E44" stroke="#263328" stroke-width="1.0"/>
<circle cx="156.39" cy="650.96" r="1.80" fill="#B4E2C6" stroke="#263328" stroke-width="1.0"/>
<circle cx="165.80" cy="650.96" r="1.80" fill="#2F7E44" stroke="#263328" stroke-width="1.0"/>
<circle cx="175.21" cy="650.96" r="1.45" fill="#333"/>
<circle cx="194.03" cy="650.96" r="1.80" fill="#6CBD88" stroke="#263328" stroke-width="1.0"/>
<circle cx="212.85" cy="650.96" r="1.80" fill="#2F7E44" stroke="#263328" stroke-width="1.0"/>
<circle cx="222.26" cy="650.96" r="1.80" fill="#6CBD88" stroke="#263328" stroke-width="1.0"/>
<circle cx="231.67" cy="650.96" r="1.80" fill="#6CBD88" stroke="#263328" stroke-width="1.0"/>
<circle cx="335.18" cy="650.96" r="1.45" fill="#333"/>
<circle cx="363.41" cy="650.96" r="1.80" fill="#2F7E44" stroke="#263328" stroke-width="1.0"/>
<circle cx="372.82" cy="650.96" r="1.80" fill="#B4E2C6" stroke="#263328" stroke-width="1.0"/>
<circle cx="401.05" cy="650.96" r="1.80" fill="#B4E2C6" stroke="#263328" stroke-width="1.0"/>
<circle cx="438.69" cy="650.96" r="2.00" fill="#2F7E44" stroke="#263328" stroke-width="1.0"/>
<circle cx="523.38" cy="650.96" r="1.80" fill="#6CBD88" stroke="#263328" stroke-width="1.0"/>
<circle cx="71.70" cy="663.58" r="1.80" fill="#B4E2C6" stroke="#263328" stroke-width="1.0"/>
<circle cx="81.11" cy="663.58" r="1.80" fill="#F2FAF5" stroke="#263328" stroke-width="1.0"/>
<circle cx="118.75" cy="663.58" r="1.80" fill="#B4E2C6" stroke="#263328" stroke-width="1.0"/>
<circle cx="137.57" cy="663.58" r="1.80" fill="#F2FAF5" stroke="#263328" stroke-width="1.0"/>
<circle cx="156.39" cy="663.58" r="1.80" fill="#6CBD88" stroke="#263328" stroke-width="1.0"/>
<circle cx="165.80" cy="663.58" r="1.80" fill="#6CBD88" stroke="#263328" stroke-width="1.0"/>
<circle cx="175.21" cy="663.58" r="1.80" fill="#B4E2C6" stroke="#263328" stroke-width="1.0"/>
<circle cx="184.62" cy="663.58" r="1.80" fill="#B4E2C6" stroke="#263328" stroke-width="1.0"/>
<circle cx="203.44" cy="663.58" r="1.80" fill="#F2FAF5" stroke="#263328" stroke-width="1.0"/>
<circle cx="212.85" cy="663.58" r="1.80" fill="#B4E2C6" stroke="#263328" stroke-width="1.0"/>
<circle cx="222.26" cy="663.58" r="1.45" fill="#333"/>
<circle cx="231.67" cy="663.58" r="1.80" fill="#6CBD88" stroke="#263328" stroke-width="1.0"/>
<circle cx="241.08" cy="663.58" r="1.80" fill="#F2FAF5" stroke="#263328" stroke-width="1.0"/>
<circle cx="259.90" cy="663.58" r="2.00" fill="#2F7E44" stroke="#263328" stroke-width="1.0"/>
<circle cx="269.31" cy="663.58" r="1.80" fill="#B4E2C6" stroke="#263328" stroke-width="1.0"/>
<circle cx="316.36" cy="663.58" r="1.80" fill="#6CBD88" stroke="#263328" stroke-width="1.0"/>
<circle cx="325.77" cy="663.58" r="1.80" fill="#2F7E44" stroke="#263328" stroke-width="1.0"/>
<circle cx="363.41" cy="663.58" r="2.20" fill="#2F7E44" stroke="#D8402C" stroke-width="0.95"/>
<circle cx="372.82" cy="663.58" r="1.80" fill="#2F7E44" stroke="#263328" stroke-width="1.0"/>
<circle cx="401.05" cy="663.58" r="1.80" fill="#B4E2C6" stroke="#263328" stroke-width="1.0"/>
<circle cx="410.46" cy="663.58" r="1.80" fill="#6CBD88" stroke="#263328" stroke-width="1.0"/>
<circle cx="438.69" cy="663.58" r="1.80" fill="#B4E2C6" stroke="#263328" stroke-width="1.0"/>
<circle cx="485.74" cy="663.58" r="2.00" fill="#1D5C2D" stroke="#263328" stroke-width="1.0"/>
<circle cx="523.38" cy="663.58" r="1.80" fill="#2F7E44" stroke="#263328" stroke-width="1.0"/>
<circle cx="71.70" cy="676.20" r="2.65" fill="#2F7E44" stroke="#D8402C" stroke-width="0.95"/>
<circle cx="81.11" cy="676.20" r="2.00" fill="#B4E2C6" stroke="#263328" stroke-width="1.0"/>
<circle cx="90.52" cy="676.20" r="2.45" fill="#6CBD88" stroke="#263328" stroke-width="1.0"/>
<circle cx="99.93" cy="676.20" r="1.80" fill="#F2FAF5" stroke="#263328" stroke-width="1.0"/>
<circle cx="109.34" cy="676.20" r="2.00" fill="#B4E2C6" stroke="#263328" stroke-width="1.0"/>
<circle cx="118.75" cy="676.20" r="1.80" fill="#F2FAF5" stroke="#263328" stroke-width="1.0"/>
<circle cx="137.57" cy="676.20" r="1.80" fill="#F2FAF5" stroke="#263328" stroke-width="1.0"/>
<circle cx="156.39" cy="676.20" r="2.65" fill="#2F7E44" stroke="#D8402C" stroke-width="0.95"/>
<circle cx="165.80" cy="676.20" r="2.20" fill="#2F7E44" stroke="#D8402C" stroke-width="0.95"/>
<circle cx="175.21" cy="676.20" r="2.00" fill="#B4E2C6" stroke="#263328" stroke-width="1.0"/>
<circle cx="184.62" cy="676.20" r="2.00" fill="#B4E2C6" stroke="#263328" stroke-width="1.0"/>
<circle cx="203.44" cy="676.20" r="2.20" fill="#2F7E44" stroke="#D8402C" stroke-width="0.95"/>
<circle cx="212.85" cy="676.20" r="2.45" fill="#2F7E44" stroke="#263328" stroke-width="1.0"/>
<circle cx="222.26" cy="676.20" r="2.00" fill="#B4E2C6" stroke="#263328" stroke-width="1.0"/>
<circle cx="231.67" cy="676.20" r="2.65" fill="#2F7E44" stroke="#D8402C" stroke-width="0.95"/>
<circle cx="241.08" cy="676.20" r="1.80" fill="#F2FAF5" stroke="#263328" stroke-width="1.0"/>
<circle cx="250.49" cy="676.20" r="2.20" fill="#2F7E44" stroke="#D8402C" stroke-width="0.95"/>
<circle cx="259.90" cy="676.20" r="2.00" fill="#B4E2C6" stroke="#263328" stroke-width="1.0"/>
<circle cx="269.31" cy="676.20" r="1.80" fill="#F2FAF5" stroke="#263328" stroke-width="1.0"/>
<circle cx="278.72" cy="676.20" r="2.20" fill="#2F7E44" stroke="#D8402C" stroke-width="0.95"/>
<circle cx="288.13" cy="676.20" r="1.80" fill="#F2FAF5" stroke="#263328" stroke-width="1.0"/>
<circle cx="297.54" cy="676.20" r="2.00" fill="#6CBD88" stroke="#263328" stroke-width="1.0"/>
<circle cx="306.95" cy="676.20" r="1.80" fill="#F2FAF5" stroke="#263328" stroke-width="1.0"/>
<circle cx="316.36" cy="676.20" r="1.80" fill="#F2FAF5" stroke="#263328" stroke-width="1.0"/>
<circle cx="325.77" cy="676.20" r="1.80" fill="#F2FAF5" stroke="#263328" stroke-width="1.0"/>
<circle cx="335.18" cy="676.20" r="1.80" fill="#F2FAF5" stroke="#263328" stroke-width="1.0"/>
<circle cx="372.82" cy="676.20" r="2.00" fill="#6CBD88" stroke="#263328" stroke-width="1.0"/>
<circle cx="391.64" cy="676.20" r="1.80" fill="#F2FAF5" stroke="#263328" stroke-width="1.0"/>
<circle cx="401.05" cy="676.20" r="2.00" fill="#B4E2C6" stroke="#263328" stroke-width="1.0"/>
<circle cx="410.46" cy="676.20" r="2.00" fill="#B4E2C6" stroke="#263328" stroke-width="1.0"/>
<circle cx="419.87" cy="676.20" r="2.00" fill="#6CBD88" stroke="#263328" stroke-width="1.0"/>
<circle cx="457.51" cy="676.20" r="1.80" fill="#B4E2C6" stroke="#263328" stroke-width="1.0"/>
<circle cx="485.74" cy="676.20" r="1.80" fill="#B4E2C6" stroke="#263328" stroke-width="1.0"/>
<circle cx="495.15" cy="676.20" r="1.80" fill="#B4E2C6" stroke="#263328" stroke-width="1.0"/>
<circle cx="513.97" cy="676.20" r="2.65" fill="#2F7E44" stroke="#D8402C" stroke-width="0.95"/>
<circle cx="523.38" cy="676.20" r="1.80" fill="#B4E2C6" stroke="#263328" stroke-width="1.0"/>
<circle cx="532.79" cy="676.20" r="2.45" fill="#2F7E44" stroke="#263328" stroke-width="1.0"/>
<circle cx="71.70" cy="688.82" r="2.00" fill="#F2FAF5" stroke="#263328" stroke-width="1.0"/>
<circle cx="81.11" cy="688.82" r="1.80" fill="#F2FAF5" stroke="#263328" stroke-width="1.0"/>
<circle cx="90.52" cy="688.82" r="2.00" fill="#F2FAF5" stroke="#263328" stroke-width="1.0"/>
<circle cx="99.93" cy="688.82" r="2.00" fill="#F2FAF5" stroke="#263328" stroke-width="1.0"/>
<circle cx="109.34" cy="688.82" r="2.45" fill="#2F7E44" stroke="#263328" stroke-width="1.0"/>
<circle cx="128.16" cy="688.82" r="2.00" fill="#F2FAF5" stroke="#263328" stroke-width="1.0"/>
<circle cx="137.57" cy="688.82" r="1.80" fill="#F2FAF5" stroke="#263328" stroke-width="1.0"/>
<circle cx="146.98" cy="688.82" r="2.00" fill="#B4E2C6" stroke="#263328" stroke-width="1.0"/>
<circle cx="156.39" cy="688.82" r="2.00" fill="#B4E2C6" stroke="#263328" stroke-width="1.0"/>
<circle cx="165.80" cy="688.82" r="2.20" fill="#2F7E44" stroke="#D8402C" stroke-width="0.95"/>
<circle cx="175.21" cy="688.82" r="2.00" fill="#2F7E44" stroke="#263328" stroke-width="1.0"/>
<circle cx="184.62" cy="688.82" r="2.00" fill="#6CBD88" stroke="#263328" stroke-width="1.0"/>
<circle cx="194.03" cy="688.82" r="2.00" fill="#6CBD88" stroke="#263328" stroke-width="1.0"/>
<circle cx="203.44" cy="688.82" r="2.00" fill="#B4E2C6" stroke="#263328" stroke-width="1.0"/>
<circle cx="212.85" cy="688.82" r="2.00" fill="#B4E2C6" stroke="#263328" stroke-width="1.0"/>
<circle cx="222.26" cy="688.82" r="2.20" fill="#2F7E44" stroke="#D8402C" stroke-width="0.95"/>
<circle cx="231.67" cy="688.82" r="2.20" fill="#2F7E44" stroke="#D8402C" stroke-width="0.95"/>
<circle cx="241.08" cy="688.82" r="2.00" fill="#F2FAF5" stroke="#263328" stroke-width="1.0"/>
<circle cx="250.49" cy="688.82" r="2.00" fill="#B4E2C6" stroke="#263328" stroke-width="1.0"/>
<circle cx="269.31" cy="688.82" r="1.80" fill="#F2FAF5" stroke="#263328" stroke-width="1.0"/>
<circle cx="297.54" cy="688.82" r="1.80" fill="#F2FAF5" stroke="#263328" stroke-width="1.0"/>
<circle cx="316.36" cy="688.82" r="1.80" fill="#F2FAF5" stroke="#263328" stroke-width="1.0"/>
<circle cx="335.18" cy="688.82" r="1.80" fill="#F2FAF5" stroke="#263328" stroke-width="1.0"/>
<circle cx="344.59" cy="688.82" r="2.00" fill="#B4E2C6" stroke="#263328" stroke-width="1.0"/>
<circle cx="363.41" cy="688.82" r="1.80" fill="#F2FAF5" stroke="#263328" stroke-width="1.0"/>
<circle cx="372.82" cy="688.82" r="2.45" fill="#2F7E44" stroke="#263328" stroke-width="1.0"/>
<circle cx="401.05" cy="688.82" r="1.80" fill="#F2FAF5" stroke="#263328" stroke-width="1.0"/>
<circle cx="410.46" cy="688.82" r="1.80" fill="#F2FAF5" stroke="#263328" stroke-width="1.0"/>
<circle cx="419.87" cy="688.82" r="2.00" fill="#F2FAF5" stroke="#263328" stroke-width="1.0"/>
<circle cx="429.28" cy="688.82" r="1.35" fill="#F2FAF5" stroke="#263328" stroke-width="1.0"/>
<circle cx="438.69" cy="688.82" r="1.80" fill="#F2FAF5" stroke="#263328" stroke-width="1.0"/>
<circle cx="448.10" cy="688.82" r="2.00" fill="#6CBD88" stroke="#263328" stroke-width="1.0"/>
<circle cx="485.74" cy="688.82" r="1.80" fill="#F2FAF5" stroke="#263328" stroke-width="1.0"/>
<circle cx="495.15" cy="688.82" r="2.45" fill="#2F7E44" stroke="#263328" stroke-width="1.0"/>
<circle cx="513.97" cy="688.82" r="2.45" fill="#2F7E44" stroke="#263328" stroke-width="1.0"/>
<circle cx="523.38" cy="688.82" r="2.00" fill="#6CBD88" stroke="#263328" stroke-width="1.0"/>
<circle cx="532.79" cy="688.82" r="2.00" fill="#B4E2C6" stroke="#263328" stroke-width="1.0"/>
<circle cx="71.70" cy="701.44" r="2.85" fill="#6CBD88" stroke="#263328" stroke-width="1.0"/>
<circle cx="81.11" cy="701.44" r="2.85" fill="#2F7E44" stroke="#263328" stroke-width="1.0"/>
<circle cx="90.52" cy="701.44" r="2.45" fill="#B4E2C6" stroke="#263328" stroke-width="1.0"/>
<circle cx="99.93" cy="701.44" r="2.00" fill="#F2FAF5" stroke="#263328" stroke-width="1.0"/>
<circle cx="109.34" cy="701.44" r="2.85" fill="#B4E2C6" stroke="#263328" stroke-width="1.0"/>
<circle cx="118.75" cy="701.44" r="1.80" fill="#F2FAF5" stroke="#263328" stroke-width="1.0"/>
<circle cx="128.16" cy="701.44" r="2.00" fill="#F2FAF5" stroke="#263328" stroke-width="1.0"/>
<circle cx="137.57" cy="701.44" r="1.80" fill="#F2FAF5" stroke="#263328" stroke-width="1.0"/>
<circle cx="146.98" cy="701.44" r="2.00" fill="#F2FAF5" stroke="#263328" stroke-width="1.0"/>
<circle cx="156.39" cy="701.44" r="2.65" fill="#2F7E44" stroke="#D8402C" stroke-width="0.95"/>
<circle cx="165.80" cy="701.44" r="2.65" fill="#2F7E44" stroke="#D8402C" stroke-width="0.95"/>
<circle cx="175.21" cy="701.44" r="2.45" fill="#1D5C2D" stroke="#263328" stroke-width="1.0"/>
<circle cx="184.62" cy="701.44" r="2.45" fill="#B4E2C6" stroke="#263328" stroke-width="1.0"/>
<circle cx="194.03" cy="701.44" r="2.45" fill="#B4E2C6" stroke="#263328" stroke-width="1.0"/>
<circle cx="203.44" cy="701.44" r="2.65" fill="#2F7E44" stroke="#D8402C" stroke-width="0.95"/>
<circle cx="212.85" cy="701.44" r="2.65" fill="#2F7E44" stroke="#D8402C" stroke-width="0.95"/>
<circle cx="222.26" cy="701.44" r="2.65" fill="#2F7E44" stroke="#D8402C" stroke-width="0.95"/>
<circle cx="231.67" cy="701.44" r="2.65" fill="#2F7E44" stroke="#D8402C" stroke-width="0.95"/>
<circle cx="241.08" cy="701.44" r="2.00" fill="#F2FAF5" stroke="#263328" stroke-width="1.0"/>
<circle cx="250.49" cy="701.44" r="2.65" fill="#2F7E44" stroke="#D8402C" stroke-width="0.95"/>
<circle cx="269.31" cy="701.44" r="1.80" fill="#F2FAF5" stroke="#263328" stroke-width="1.0"/>
<circle cx="278.72" cy="701.44" r="2.45" fill="#6CBD88" stroke="#263328" stroke-width="1.0"/>
<circle cx="288.13" cy="701.44" r="2.00" fill="#B4E2C6" stroke="#263328" stroke-width="1.0"/>
<circle cx="297.54" cy="701.44" r="2.45" fill="#B4E2C6" stroke="#263328" stroke-width="1.0"/>
<circle cx="306.95" cy="701.44" r="1.80" fill="#F2FAF5" stroke="#263328" stroke-width="1.0"/>
<circle cx="316.36" cy="701.44" r="2.00" fill="#F2FAF5" stroke="#263328" stroke-width="1.0"/>
<circle cx="325.77" cy="701.44" r="1.80" fill="#F2FAF5" stroke="#263328" stroke-width="1.0"/>
<circle cx="335.18" cy="701.44" r="2.00" fill="#F2FAF5" stroke="#263328" stroke-width="1.0"/>
<circle cx="344.59" cy="701.44" r="2.00" fill="#F2FAF5" stroke="#263328" stroke-width="1.0"/>
<circle cx="354.00" cy="701.44" r="1.80" fill="#F2FAF5" stroke="#263328" stroke-width="1.0"/>
<circle cx="363.41" cy="701.44" r="2.45" fill="#B4E2C6" stroke="#263328" stroke-width="1.0"/>
<circle cx="372.82" cy="701.44" r="2.45" fill="#2F7E44" stroke="#263328" stroke-width="1.0"/>
<circle cx="391.64" cy="701.44" r="1.80" fill="#F2FAF5" stroke="#263328" stroke-width="1.0"/>
<circle cx="401.05" cy="701.44" r="2.45" fill="#6CBD88" stroke="#263328" stroke-width="1.0"/>
<circle cx="410.46" cy="701.44" r="2.00" fill="#F2FAF5" stroke="#263328" stroke-width="1.0"/>
<circle cx="419.87" cy="701.44" r="2.45" fill="#B4E2C6" stroke="#263328" stroke-width="1.0"/>
<circle cx="429.28" cy="701.44" r="1.35" fill="#F2FAF5" stroke="#263328" stroke-width="1.0"/>
<circle cx="438.69" cy="701.44" r="2.00" fill="#F2FAF5" stroke="#263328" stroke-width="1.0"/>
<circle cx="448.10" cy="701.44" r="2.65" fill="#2F7E44" stroke="#D8402C" stroke-width="0.95"/>
<circle cx="457.51" cy="701.44" r="2.00" fill="#F2FAF5" stroke="#263328" stroke-width="1.0"/>
<circle cx="466.92" cy="701.44" r="2.45" fill="#B4E2C6" stroke="#263328" stroke-width="1.0"/>
<circle cx="476.33" cy="701.44" r="2.00" fill="#F2FAF5" stroke="#263328" stroke-width="1.0"/>
<circle cx="485.74" cy="701.44" r="2.00" fill="#F2FAF5" stroke="#263328" stroke-width="1.0"/>
<circle cx="495.15" cy="701.44" r="2.45" fill="#B4E2C6" stroke="#263328" stroke-width="1.0"/>
<circle cx="504.56" cy="701.44" r="2.45" fill="#B4E2C6" stroke="#263328" stroke-width="1.0"/>
<circle cx="513.97" cy="701.44" r="3.05" fill="#2F7E44" stroke="#D8402C" stroke-width="0.95"/>
<circle cx="523.38" cy="701.44" r="2.00" fill="#F2FAF5" stroke="#263328" stroke-width="1.0"/>
<circle cx="532.79" cy="701.44" r="2.00" fill="#B4E2C6" stroke="#263328" stroke-width="1.0"/>
<circle cx="99.93" cy="714.06" r="1.45" fill="#333"/>
<circle cx="109.34" cy="714.06" r="2.45" fill="#2F7E44" stroke="#263328" stroke-width="1.0"/>
<circle cx="137.57" cy="714.06" r="1.45" fill="#333"/>
<circle cx="146.98" cy="714.06" r="1.80" fill="#B4E2C6" stroke="#263328" stroke-width="1.0"/>
<circle cx="156.39" cy="714.06" r="1.80" fill="#B4E2C6" stroke="#263328" stroke-width="1.0"/>
<circle cx="222.26" cy="714.06" r="1.45" fill="#333"/>
<circle cx="513.97" cy="714.06" r="1.80" fill="#2F7E44" stroke="#263328" stroke-width="1.0"/>
<circle cx="532.79" cy="714.06" r="2.00" fill="#2F7E44" stroke="#D8402C" stroke-width="0.95"/>
<circle cx="71.70" cy="726.68" r="1.45" fill="#333"/>
<circle cx="128.16" cy="726.68" r="2.00" fill="#6CBD88" stroke="#263328" stroke-width="1.0"/>
<circle cx="165.80" cy="726.68" r="1.80" fill="#B4E2C6" stroke="#263328" stroke-width="1.0"/>
<circle cx="175.21" cy="726.68" r="1.45" fill="#333"/>
<circle cx="203.44" cy="726.68" r="1.80" fill="#B4E2C6" stroke="#263328" stroke-width="1.0"/>
<circle cx="231.67" cy="726.68" r="1.45" fill="#333"/>
<circle cx="523.38" cy="726.68" r="2.00" fill="#2F7E44" stroke="#D8402C" stroke-width="0.95"/>
<rect x="59" y="741" width="13" height="65" fill="#F2F2F2"/>
<circle cx="65.8" cy="747.4" r="1.95" fill="#111"/>
<text x="78.00" y="749.70" font-size="6.6" fill="#262626" stroke="#262626" stroke-width="0.22">0.1</text>
<circle cx="65.8" cy="761" r="2.35" fill="#111"/>
<text x="78.00" y="763.30" font-size="6.6" fill="#262626" stroke="#262626" stroke-width="0.22">0.2</text>
<circle cx="65.8" cy="774" r="2.65" fill="#111"/>
<text x="78.00" y="776.30" font-size="6.6" fill="#262626" stroke="#262626" stroke-width="0.22">0.3</text>
<circle cx="65.8" cy="787.4" r="2.95" fill="#111"/>
<text x="78.00" y="789.70" font-size="6.6" fill="#262626" stroke="#262626" stroke-width="0.22">0.4</text>
<circle cx="65.8" cy="800.4" r="3.25" fill="#111"/>
<text x="78.00" y="802.70" font-size="6.6" fill="#262626" stroke="#262626" stroke-width="0.22">0.5</text>
<text x="56.40" y="774.50" font-size="8.1" fill="#222" stroke="#222" stroke-width="0.12" text-anchor="middle" transform="rotate(-90 56.40 774.50)">Ratio identified</text>
<defs><linearGradient id="fdr" x1="0" y1="1" x2="0" y2="0"><stop offset="0" stop-color="#2C6C36"/><stop offset="0.25" stop-color="#58A86A"/><stop offset="0.5" stop-color="#85C9A2"/><stop offset="0.75" stop-color="#B6E0CF"/><stop offset="1" stop-color="#EAF6F3"/></linearGradient></defs>
<rect x="114" y="739.8" width="11.8" height="68.6" fill="url(#fdr)"/>
<line x1="114" y1="752.9" x2="116.3" y2="752.9" stroke="#fff" stroke-opacity="0.7" stroke-width="0.7"/>
<line x1="123.5" y1="752.9" x2="125.8" y2="752.9" stroke="#fff" stroke-opacity="0.7" stroke-width="0.7"/>
<line x1="114" y1="767.0" x2="116.3" y2="767.0" stroke="#fff" stroke-opacity="0.7" stroke-width="0.7"/>
<line x1="123.5" y1="767.0" x2="125.8" y2="767.0" stroke="#fff" stroke-opacity="0.7" stroke-width="0.7"/>
<line x1="114" y1="781.2" x2="116.3" y2="781.2" stroke="#fff" stroke-opacity="0.7" stroke-width="0.7"/>
<line x1="123.5" y1="781.2" x2="125.8" y2="781.2" stroke="#fff" stroke-opacity="0.7" stroke-width="0.7"/>
<line x1="114" y1="794.9" x2="116.3" y2="794.9" stroke="#fff" stroke-opacity="0.7" stroke-width="0.7"/>
<line x1="123.5" y1="794.9" x2="125.8" y2="794.9" stroke="#fff" stroke-opacity="0.7" stroke-width="0.7"/>
<text x="129.50" y="743.50" font-size="6.6" fill="#262626" stroke="#262626" stroke-width="0.22">1</text>
<text x="129.50" y="774.20" font-size="6.6" fill="#262626" stroke="#262626" stroke-width="0.22">0.5</text>
<text x="129.50" y="806.30" font-size="6.6" fill="#262626" stroke="#262626" stroke-width="0.22">0</text>
<text x="111.00" y="767.80" font-size="7.9" fill="#222" stroke="#222" stroke-width="0.12" text-anchor="middle" transform="rotate(-90 111.00 767.80)">FDR</text>
<rect x="158.4" y="740.6" width="11.6" height="33.4" fill="#F2F2F2"/>
<circle cx="164.8" cy="748.6" r="1.05" fill="none" stroke="#222" stroke-width="0.7"/>
<circle cx="164.8" cy="766.6" r="1.5" fill="#F08A8A"/>
<text x="174.00" y="750.90" font-size="6.8" fill="#222" stroke="#222" stroke-width="0.22">not significant</text>
<text x="174.00" y="768.90" font-size="6.8" fill="#222" stroke="#222" stroke-width="0.22">significant</text>
<text x="238.70" y="749.00" font-size="8.4" fill="#4DB7EA" stroke="#4DB7EA" stroke-width="0.12">Amino Acid Metabolism</text>
<text x="238.70" y="761.30" font-size="8.4" fill="#D77ED4" stroke="#D77ED4" stroke-width="0.12">Biosynthesis of Secondary Metabolites</text>
<text x="238.70" y="774.00" font-size="8.4" fill="#3E7A30" stroke="#3E7A30" stroke-width="0.12">Carbohydrate Metabolism</text>
<text x="238.70" y="786.30" font-size="8.4" fill="#A0554A" stroke="#A0554A" stroke-width="0.12">Energy Metabolism</text>
<text x="238.70" y="799.00" font-size="8.4" fill="#4DB847" stroke="#4DB847" stroke-width="0.12">Endocrine System</text>
<text x="392.40" y="748.80" font-size="8.4" fill="#4A6F6E" stroke="#4A6F6E" stroke-width="0.12">Lipid Metabolism</text>
<text x="392.40" y="761.20" font-size="8.4" fill="#D63E74" stroke="#D63E74" stroke-width="0.12">Metabolism of Cofactors and Vitamins</text>
<text x="392.40" y="773.60" font-size="8.4" fill="#E9A546" stroke="#E9A546" stroke-width="0.12">Metabolism of Other Amino Acid</text>
<text x="392.40" y="786.30" font-size="8.4" fill="#5566DD" stroke="#5566DD" stroke-width="0.12">Nucleotide Metabolism</text></svg>
</body></html>
